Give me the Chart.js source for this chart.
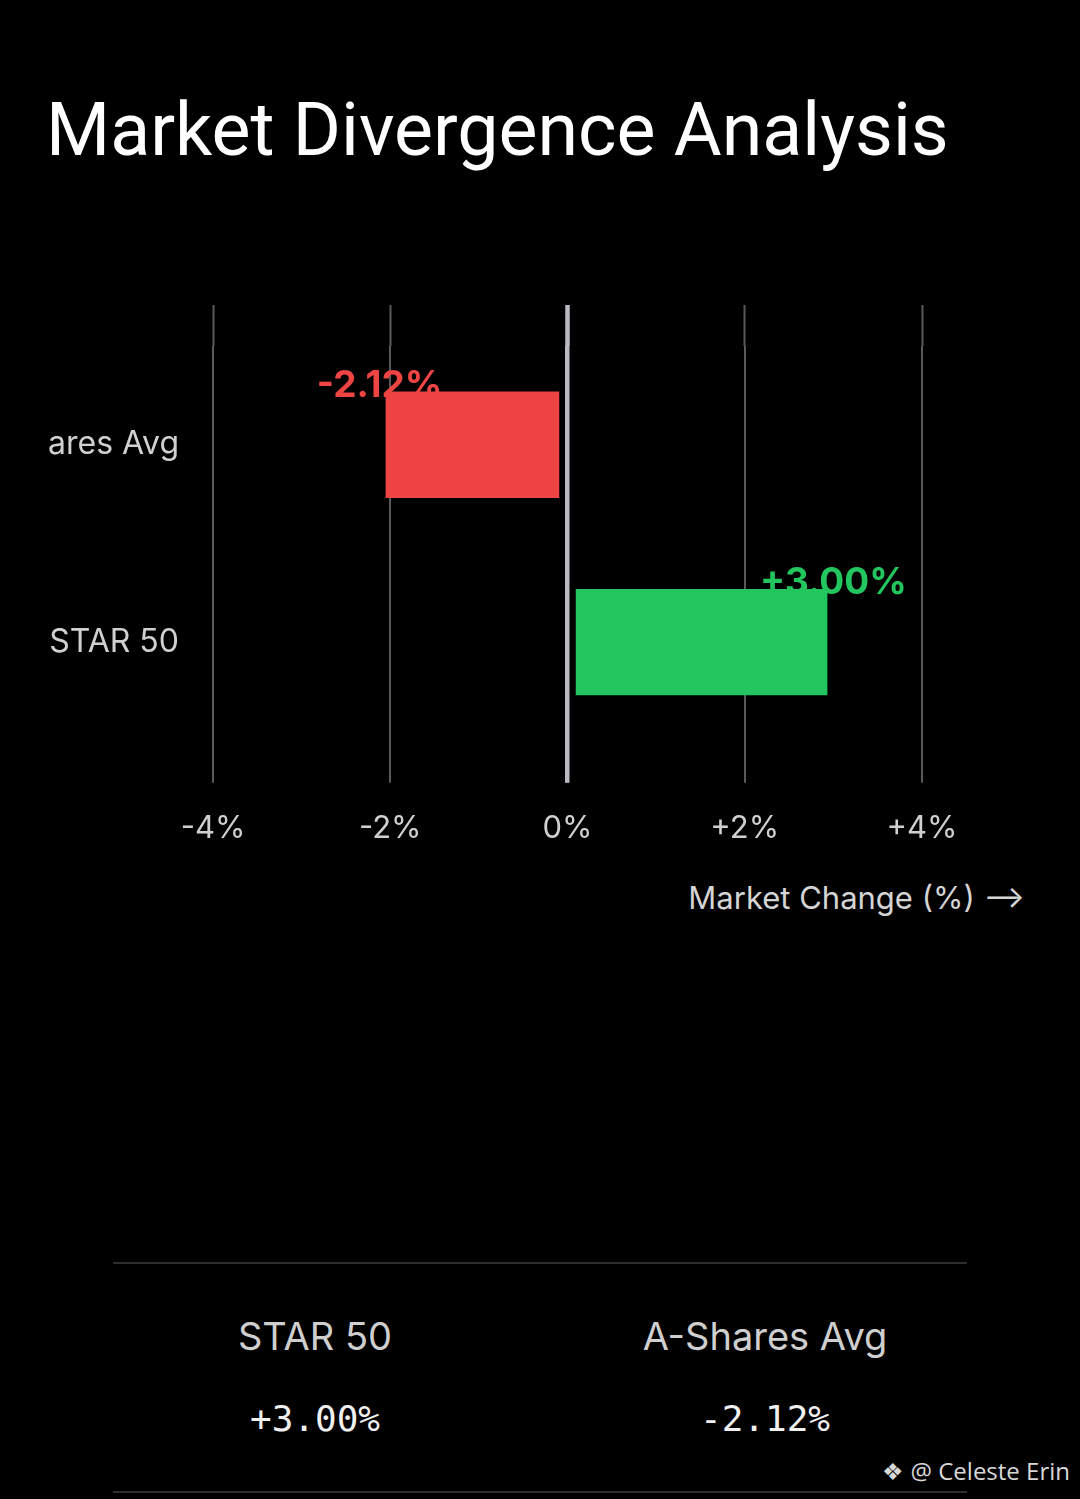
<!DOCTYPE html>
<html>
<head>
<meta charset="utf-8">
<script src="https://cdn.jsdelivr.net/npm/chart.js@4/dist/chart.umd.min.js"></script>
<style>
  html, body { margin:0; padding:0; background:#000; }
  body { width:1080px; height:1499px; position:relative; overflow:hidden; font-family: Inter, "Noto Sans", sans-serif; }
  #title { position:absolute; left:46px; top:94px; font-family:Roboto, sans-serif; font-size:73.5px; line-height:1; color:#fff; font-weight:400; white-space:nowrap; }
  #chartWrap { position:absolute; left:46px; top:305px; width:960px; height:569px; }
  #axisTitle { position:absolute; right:55px; top:882px; font-size:31px; line-height:1; color:#d4d4d4; white-space:nowrap; }
  .rule { position:absolute; left:113px; width:854px; height:2px; background:#2e2e2e; }
  .col { position:absolute; width:420px; text-align:center; }
  .name { font-size:38px; color:#cfcfcf; line-height:1; }
  .val { font-family:"DejaVu Sans Mono", "Liberation Mono", monospace; font-size:36px; color:#f0f0f0; line-height:1; }
  #wm { position:absolute; right:10px; top:1459px; font-family:"Open Sans", sans-serif; font-size:24px; color:#d8d8d8; line-height:1; white-space:nowrap; }
</style>
</head>
<body>
<div id="title">Market Divergence Analysis</div>
<div id="chartWrap"><canvas id="c"></canvas></div>
<div id="axisTitle">Market Change (%) ⟶</div>
<div class="rule" style="top:1262px"></div>
<div id="summary"></div>
<div class="rule" style="top:1491px"></div>
<div id="wm">❖ @ Celeste Erin</div>
<script>
// ---- data ----
const categories = ['A-Shares Avg', 'STAR 50'];
const changes = [-2.12, 3.00];
const barColors = ['#ef4444', '#22c55e'];
const summaryNames = ['STAR 50', 'A-Shares Avg'];
const summaryValues = [3.00, -2.12];
const tickValues = [-4, -2, 0, 2, 4];

const fmtPct = v => (v > 0 ? '+' : '') + v.toFixed(2) + '%';
const fmtTick = v => (v > 0 ? '+' : '') + v + '%';

const summary = document.getElementById('summary');
const colCenters = [315, 765];
summaryNames.forEach((n, i) => {
  const col = document.createElement('div');
  col.className = 'col';
  col.style.left = (colCenters[i] - 210) + 'px';
  col.style.top = '1317px';
  col.innerHTML = '<div class="name">' + n + '</div><div class="val" style="margin-top:46px">' + fmtPct(summaryValues[i]) + '</div>';
  summary.appendChild(col);
});

const GRID = '#595959';
const ZERO = '#b9b9c1';
const isZero = ctx => ctx.tick && ctx.tick.value === 0;

const labelPlugin = {
  id: 'valueLabels',
  beforeDatasetsDraw(chart) {
    const ctx = chart.ctx;
    const meta = chart.getDatasetMeta(0);
    ctx.save();
    ctx.font = 'bold 37px Inter, sans-serif';
    ctx.textAlign = 'center';
    ctx.textBaseline = 'middle';
    meta.data.forEach((bar, i) => {
      const p = bar.getProps(['x', 'y', 'height'], true);
      ctx.fillStyle = barColors[i];
      ctx.fillText(fmtPct(changes[i]), p.x, p.y - p.height / 2);
    });
    ctx.restore();
  }
};

new Chart(document.getElementById('c'), {
  type: 'bar',
  data: {
    labels: categories,
    datasets: [{
      data: changes,
      backgroundColor: barColors,
      borderColor: 'rgba(0,0,0,0)',
      borderWidth: 6,
      borderSkipped: false,
      categoryPercentage: 0.8,
      barPercentage: 0.75
    }]
  },
  options: {
    indexAxis: 'y',
    responsive: true,
    maintainAspectRatio: false,
    animation: false,
    layout: { padding: { left: 0, right: 84, top: 0, bottom: 0 } },
    plugins: { legend: { display: false }, tooltip: { enabled: false } },
    scales: {
      x: {
        type: 'linear',
        position: 'bottom',
        min: -4, max: 4,
        afterBuildTicks: s => { s.ticks = tickValues.map(v => ({ value: v })); },
        border: { display: false },
        grid: {
          color: c => isZero(c) ? ZERO : GRID,
          lineWidth: c => isZero(c) ? 4.5 : 2,
          tickColor: c => isZero(c) ? ZERO : GRID,
          tickWidth: c => isZero(c) ? 4.5 : 2,
          tickLength: 42,
          drawTicks: true
        },
        ticks: {
          color: '#d0d0d0',
          font: { size: 31, family: 'Inter, sans-serif' },
          padding: 27,
          maxRotation: 0,
          callback: v => fmtTick(v)
        }
      },
      x2: {
        type: 'linear',
        position: 'top',
        min: -4, max: 4,
        afterBuildTicks: s => { s.ticks = tickValues.map(v => ({ value: v })); },
        border: { display: false },
        grid: {
          drawOnChartArea: false,
          drawTicks: true,
          tickLength: 41,
          tickColor: c => isZero(c) ? ZERO : GRID,
          tickWidth: c => isZero(c) ? 4.5 : 2
        },
        ticks: { display: false }
      },
      y: {
        type: 'category',
        position: 'left',
        afterFit: s => { s.width = 167; s.paddingTop = 0; s.paddingBottom = 0; },
        border: { display: false },
        grid: { display: false, drawTicks: false },
        ticks: {
          color: '#d0d0d0',
          font: { size: 32, family: 'Inter, sans-serif' },
          padding: 34
        }
      }
    }
  },
  plugins: [labelPlugin]
});
</script>
</body>
</html>
